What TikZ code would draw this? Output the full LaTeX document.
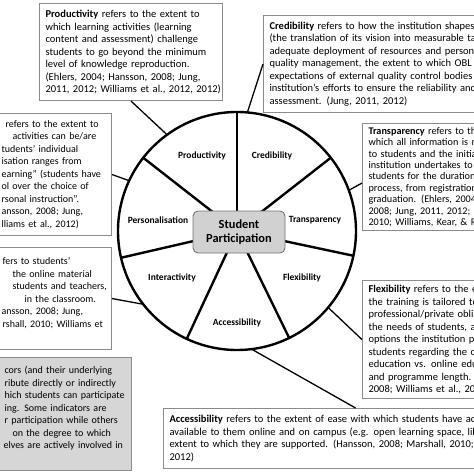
\documentclass[tikz,border=0pt]{standalone}
\usepackage{fontspec}
\setmainfont{Carlito}
% a line of a box that runs past the left edge, set in from that edge by #1pt
\newcommand{\cutline}[2]{\hspace*{#1pt}\mbox{#2}}

\begin{document}
\begin{tikzpicture}[x=1pt, y=-1pt,
			note/.style={draw=black!45, line width=1.1pt, fill=white, anchor=north west,
				align=left, inner xsep=6pt, inner ysep=3pt,
				font=\fontsize{10.5}{12.5}\selectfont},
			cutnote/.style={note, text width=105pt, font=\fontsize{10}{12.5}\selectfont},
			link/.style={draw=black, line width=1.3pt},
			spoke/.style={draw=black, line width=2.4pt},
			sector/.style={font=\fontsize{9.5}{10}\selectfont\bfseries}]
			\useasboundingbox (0,0) rectangle (474,474);
			\clip (0,0) rectangle (474,474);
			% wheel and its seven spokes
			\node at (237,231) (wheel) [circle, draw, line width=2.4pt, minimum size=238pt, inner sep=0pt, outer sep=0pt] {};
			\foreach \k [evaluate=\k as \a using 90-\k*360/7] in {0,...,6}
				\draw[spoke] (wheel.center) -- (wheel.\a);
			\node at (239,232) (core) [rounded corners=5pt, draw=black!55, line width=0.9pt, fill=black!18,
				minimum width=92pt, minimum height=42pt, align=center,
				font=\fontsize{12.4}{14}\selectfont\bfseries] {Student\\Participation};
			\node at (202,156) (lprod) [sector] {Productivity};
			\node at (272,156) (lcred) [sector] {Credibility};
			\node at (315,220) (ltrans) [sector] {Transparency};
			\node at (302,278) (lflex) [sector] {Flexibility};
			\node at (237,323) (laccess) [sector] {Accessibility};
			\node at (172,278) (linter) [sector] {Interactivity};
			\node at (158,220) (lpers) [sector] {Personalisation};
			% definition boxes
			\node at (39,3) (prod) [note, text width=171pt, minimum height=97pt] {\textbf{Productivity} refers to the extent to\\ which learning activities (learning\\ content and assessment) challenge\\ students to go beyond the minimum\\ level of knowledge reproduction.\\ (Ehlers, 2004; Hansson, 2008; Jung,\\ 2011,~2012;~Williams~et~al.,~2012,~2012)};
			\node at (263,15) (cred) [note, text width=280pt, minimum height=97pt] {\textbf{Credibility} refers to how the institution shapes\\ (the translation of its vision into measurable targets\\ adequate deployment of resources and personnel\\ quality management, the extent to which OBL meets\\ expectations of external quality control bodies\\ institution’s efforts to ensure the reliability and\\ assessment. (Jung, 2011, 2012)};
			\node at (362,123) (trans) [note, text width=200pt, minimum height=107pt, font=\fontsize{10.2}{11.4}\selectfont] {\textbf{Transparency} refers to the\\ which all information is made\\ to students and the initial\\ institution undertakes to\\ students for the duration\\ process, from registration\\ graduation. (Ehlers, 2004;\\ 2008; Jung, 2011, 2012;\\ 2010; Williams, Kear, \& Rosewell};
			\node at (362,280) (flex) [note, text width=200pt, minimum height=118pt] {\textbf{Flexibility} refers to the extent\\ the training is tailored to\\ professional/private obligations\\ the needs of students, as\\ options the institution provides\\ students regarding the choice\\ education vs. online education\\ and programme length. (Hansson,\\ 2008; Williams et al., 2012)};
			\node at (163,408) (access) [note, text width=372pt, minimum height=60pt] {\textbf{Accessibility} refers to the extent of ease with which students have access\\ available to them online and on campus (e.g. open learning space, library\\ extent to which they are supported. (Hansson, 2008; Marshall, 2010; Williams\\ 2012)};
			\node at (-6,113) (pers) [cutnote, minimum height=122pt] {\cutline{5}{refers to the extent to}\\ \cutline{12}{activities can be/are}\\ \cutline{1}{tudents’ individual}\\ \cutline{1}{isation ranges from}\\ \cutline{1}{earning” (students have}\\ \cutline{1}{ol over the choice of}\\ \cutline{1}{rsonal instruction”.}\\ \cutline{1}{ansson, 2008; Jung,}\\ \cutline{1}{lliams et al., 2012)}};
			\node at (-6,247) (inter) [cutnote, minimum height=102pt] {\cutline{2}{fers to students’}\\ \cutline{12}{the online material}\\ \cutline{12}{students and teachers,}\\ \cutline{24}{in the classroom.}\\ \cutline{1}{ansson, 2008; Jung,}\\ \cutline{2}{rshall, 2010; Williams et}\\ \mbox{}};
			\node at (-6,357) (total) [cutnote, fill=black!16, text width=125pt, minimum height=113pt] {\cutline{4}{cors (and their underlying}\\ \cutline{4}{ribute directly or indirectly}\\ \cutline{4}{hich students can participate}\\ \cutline{4}{ing. Some indicators are}\\ \cutline{4}{r participation while others}\\ \cutline{12}{on the degree to which}\\ \cutline{3}{elves are actively involved in}\\ \mbox{}};
			% connectors from the boxes to the wheel
			\draw[link] (prod.south) -- (wheel.126);
			\draw[link] (cred.west) -- (wheel.85);
			\draw[link] (pers.east) -- (wheel.155);
			\draw[link] (inter.east) -- (wheel.218);
			\draw[link] ([yshift=-6pt]trans.west) -- (wheel.20);
			\draw[link] (flex.west) -- (wheel.-40);
			\draw[link] (access.north) -- (wheel.-83);
		\end{tikzpicture}
\end{document}
